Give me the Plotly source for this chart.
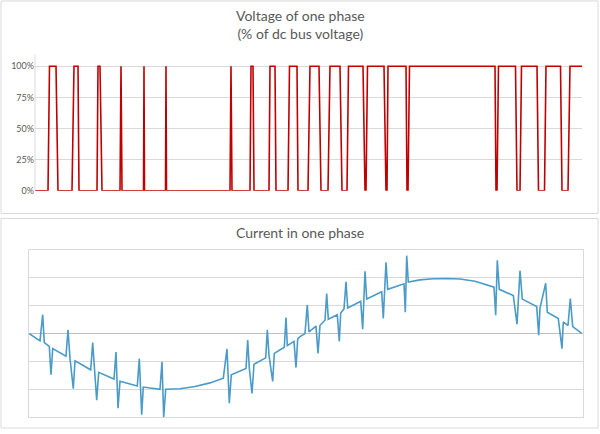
import plotly.graph_objects as go

# voltage corners: time (arbitrary units, shared scale with picture) and level
volt_t = [35, 48, 49.5, 56, 58, 72, 74, 78, 79, 97, 98, 100, 102,
          120, 121, 122, 143.5, 144, 144.5, 165.5, 166, 166.5,
          230, 231, 232, 250, 251, 253, 254,
          269, 270, 275, 276, 288, 289.5, 297, 298,
          308, 310, 319, 321, 328, 330, 340, 342, 347, 348.5, 363, 365,
          366, 367.5, 384, 386, 387, 388, 406, 407, 408, 409.5,
          495, 496, 497, 498.5, 515.5, 517, 520, 521.5, 537, 538.5,
          544.5, 546, 560.5, 562, 568, 570, 582]
volt_v = [0, 0, 1, 1, 0, 0, 1, 1, 0, 0, 1, 1, 0,
          0, 1, 0, 0, 1, 0, 0, 1, 0,
          0, 1, 0, 0, 1, 1, 0,
          0, 1, 1, 0, 0, 1, 1, 0,
          0, 1, 1, 0, 0, 1, 1, 0, 0, 1, 1, 0,
          0, 1, 1, 0, 0, 1, 1, 0, 0, 1,
          1, 0, 0, 1, 1, 0, 0, 1, 1, 0,
          0, 1, 1, 0, 0, 1, 1]

curr_t = [29.3, 40, 42.7, 44.3, 49.3, 51, 52.7, 66, 68, 70, 73.3, 75,
          90.7, 92.7, 94.7, 96.7, 98.7, 114, 116, 118, 120,
          137.3, 139.3, 141.7, 143.3, 160, 162, 163.7, 165.7,
          180, 195, 210, 223.3, 227, 229.3, 231.3, 246, 247.7, 249.3, 252, 254,
          265.7, 267.3, 269, 272.7, 274.3, 284.3, 286, 287.3, 294, 296, 297.7,
          300, 305, 307.3, 309, 316, 318, 320, 325, 326.7, 328.3,
          337.3, 339.3, 340.7, 344, 346, 347.7, 360.7, 362.7, 365, 366.7,
          381.7, 383.3, 386, 387.7, 404, 405.3, 406.7, 408.3,
          420, 433, 447, 460, 475, 494, 495.7, 497.3, 499.3,
          513.3, 517, 518.3, 520, 522.3, 536.7, 538.7, 540, 545.7, 547.3,
          558.3, 562, 563.3, 568, 570.3, 572.7, 581.7]
curr_v = [0, -0.26, 0.68, -0.32, -0.46, -1.48, -0.54, -0.81, 0.14, -0.89, -1.98, -0.98,
          -1.30, -0.32, -1.37, -2.39, -1.39, -1.63, -0.66, -2.68, -1.71,
          -1.88, -0.90, -2.91, -1.92, -2.0, -1.01, -3.0, -2.0,
          -1.98, -1.9, -1.77, -1.60, -0.55, -2.5, -1.48, -1.25, -0.23, -1.24, -2.15, -1.10,
          -0.87, 0.14, -0.78, -1.72, -0.71, -0.49, 0.58, -0.43, -0.28, -1.22, -0.19,
          -0.11, 0, 1.03, 0.06, 0.27, -0.71, 0.30, 0.48, 1.44, 0.52,
          0.68, -0.28, 0.74, 0.89, 1.86, 0.92, 1.16, 0.16, 2.24, 1.24,
          1.50, 0.54, 2.56, 1.59, 1.79, 0.77, 2.80, 1.85,
          1.93, 1.97, 1.98, 1.96, 1.88, 1.67, 0.66, 2.63, 1.59,
          1.37, 0.34, 1.32, 2.26, 1.24, 0.97, -0.06, 0.92, 1.81, 0.77,
          0.54, -0.54, 0.42, 0.29, 1.26, 0.25, 0.01]

H = 434.0
txt = "#595959"
grid = "#d9d9d9"


def py(p):
    # paper fraction for a pixel row measured from the top
    return 1 - p / H


fig = go.Figure()
fig.add_trace(go.Scatter(x=volt_t, y=volt_v, mode="lines", xaxis="x", yaxis="y",
                         line=dict(color="#c00000", width=1.6), hoverinfo="skip"))
fig.add_trace(go.Scatter(x=curr_t, y=curr_v, mode="lines", xaxis="x2", yaxis="y2",
                         line=dict(color="#4a9bc7", width=1.6), hoverinfo="skip"))

fig.update_layout(
    width=600, height=434, margin=dict(l=0, r=0, t=0, b=0, pad=0),
    paper_bgcolor="white", plot_bgcolor="white", showlegend=False,
    font=dict(family="Lato, sans-serif", color=txt),
    xaxis=dict(domain=[35 / 600, 582 / 600], range=[35, 582], visible=False),
    yaxis=dict(domain=[py(193), py(55)], range=[0, 1.095], tickvals=[0, 0.25, 0.5, 0.75, 1],
               ticktext=["0%", "25%", "50%", "75%", "100%"], tickfont=dict(size=9, color=txt),
               gridcolor=grid, gridwidth=1, zeroline=False, showline=False, ticks="", ticklen=0),
    xaxis2=dict(domain=[29 / 600, 583 / 600], range=[29, 583], showticklabels=False,
                showgrid=False, zeroline=False, showline=True, linecolor=grid, mirror=True,
                anchor="y2"),
    yaxis2=dict(domain=[py(422), py(253)], range=[-3, 3], dtick=1, showticklabels=False,
                gridcolor=grid, zeroline=True, zerolinecolor="#bfbfbf", zerolinewidth=1,
                showline=True, linecolor=grid, mirror=True, anchor="x2"),
    shapes=[
        dict(type="rect", xref="paper", yref="paper", x0=1 / 600, x1=598 / 600,
             y0=py(216), y1=py(1), line=dict(color=grid, width=1)),
        dict(type="rect", xref="paper", yref="paper", x0=1 / 600, x1=598 / 600,
             y0=py(433), y1=py(221), line=dict(color=grid, width=1)),
        dict(type="line", xref="paper", yref="paper", x0=35 / 600, x1=35 / 600,
             y0=py(193), y1=py(55), line=dict(color=grid, width=1)),
    ],
    annotations=[
        dict(text="Voltage of one phase<br>(% of dc bus voltage)", xref="paper", yref="paper",
             x=0.5, y=py(5), xanchor="center", yanchor="top", showarrow=False,
             font=dict(size=14, color=txt)),
        dict(text="Current in one phase", xref="paper", yref="paper",
             x=0.5, y=py(225), xanchor="center", yanchor="top", showarrow=False,
             font=dict(size=14, color=txt)),
    ],
)

fig.write_html("out.html", config={"displayModeBar": False},
               post_script="document.body.style.margin='0';document.body.style.overflow='hidden';")
